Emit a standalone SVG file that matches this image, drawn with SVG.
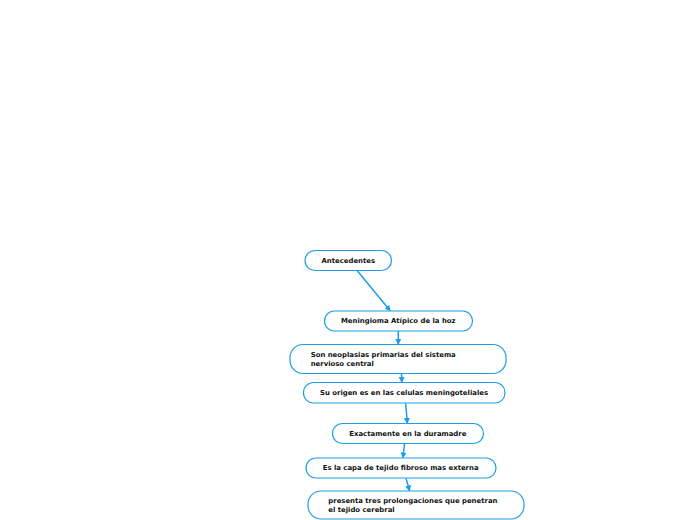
<svg xmlns="http://www.w3.org/2000/svg" width="697" height="520" viewBox="0 0 697 520">
<defs>
<marker id="arr" markerWidth="6" markerHeight="6" refX="5" refY="3" orient="auto" markerUnits="userSpaceOnUse">
<path d="M0,0 L6,3 L0,6 Z" fill="#1b9ee6"/>
</marker>
<style>
.box{fill:#ffffff;stroke:#1b9ee6;stroke-width:1.2}
.t{font-family:"DejaVu Sans",Verdana,sans-serif;font-weight:bold;font-size:6.9px;fill:#111111}
.c{stroke:#1b9ee6;stroke-width:1.5;fill:none;marker-end:url(#arr)}
</style>
</defs>
<rect width="697" height="520" fill="#ffffff"/>
<g id="connectors">
<line class="c" x1="357.5" y1="271" x2="390" y2="310.5"/>
<line class="c" x1="398.3" y1="331" x2="398.3" y2="344"/>
<line class="c" x1="401.5" y1="373.5" x2="401.8" y2="382"/>
<line class="c" x1="405.7" y1="403.5" x2="407.3" y2="423"/>
<line class="c" x1="404.5" y1="444" x2="403" y2="457.5"/>
<line class="c" x1="406" y1="478.5" x2="409.5" y2="490.5"/>
</g>
<g id="n1"><rect class="box" x="305" y="250.5" width="86.5" height="20" rx="10"/><text class="t" x="321.5" y="262.7">Antecedentes</text></g>
<g id="n2"><rect class="box" x="324.5" y="311" width="148" height="20" rx="10"/><text class="t" x="341" y="323.3">Meningioma Atípico de la hoz</text></g>
<g id="n3"><rect class="box" x="290" y="344.5" width="216" height="29" rx="13"/><text class="t" x="310.7" y="357.3">Son neoplasias primarias del sistema</text><text class="t" x="310.7" y="365.7">nervioso central</text></g>
<g id="n4"><rect class="box" x="303.5" y="382.5" width="201.5" height="20.5" rx="10"/><text class="t" x="320" y="395">Su origen es en las celulas meningoteliales</text></g>
<g id="n5"><rect class="box" x="332.5" y="423.5" width="151" height="20" rx="10"/><text class="t" x="349.3" y="435.7">Exactamente en la duramadre</text></g>
<g id="n6"><rect class="box" x="306" y="458" width="190" height="20" rx="10"/><text class="t" x="322.7" y="470">Es la capa de tejido fibroso mas externa</text></g>
<g id="n7"><rect class="box" x="308" y="491" width="216" height="28" rx="13"/><text class="t" x="328.3" y="503.3">presenta tres prolongaciones que penetran</text><text class="t" x="328.3" y="511.7">el tejido cerebral</text></g>
</svg>
